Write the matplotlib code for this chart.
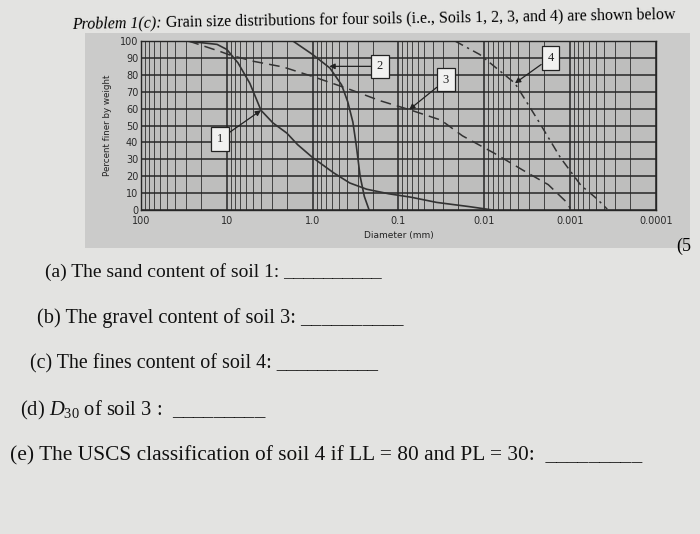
import matplotlib
matplotlib.use("Agg")
import matplotlib.pyplot as plt
from matplotlib.patches import Rectangle
from matplotlib.ticker import FixedLocator, NullFormatter
import numpy as np

# grain size curves (diameter mm, percent finer)
soil1_d = [30, 13, 10, 7.4, 5.4, 4.0, 2.9, 2.0, 1.5, 1.0, 0.57, 0.37, 0.235, 0.13, 0.072, 0.036, 0.015, 0.008]
soil1_p = [100, 98, 95, 87, 75, 59, 51.5, 45.5, 38.7, 31, 22, 16, 12.3, 9.6, 7.6, 4.5, 2, 0]

soil2_d = [1.7, 1.0, 0.63, 0.46, 0.39, 0.34, 0.31, 0.28, 0.25, 0.22]
soil2_p = [100, 92, 84, 74, 64, 52, 38, 20, 8, 0]

soil3_d = [28, 12.3, 9.2, 4.8, 2.2, 1.0, 0.4, 0.16, 0.075, 0.032, 0.018, 0.0076, 0.0034, 0.0018, 0.0011, 0.001]
soil3_p = [100, 94, 91.7, 87.9, 84.6, 79, 72, 64.5, 59.4, 53.2, 43.9, 33.5, 23, 15, 4.6, 1]

soil4_d = [0.022, 0.0113, 0.0044, 0.0023, 0.0013, 0.00075, 0.00049, 0.00037]
soil4_p = [100, 92, 75, 52, 31, 14.6, 6.7, 0.5]

x_ticks = [100, 10, 1, 0.1, 0.01, 0.001, 0.0001]
x_labels = ['100', '10', '1.0', '0.1', '0.01', '0.001', '0.0001']
y_ticks = list(range(0, 101, 10))

# label boxes: (text, box position, arrow tip)
labels = [
    ('1', (12, 42), (4.0, 59)),
    ('2', (0.165, 85), (0.64, 85)),
    ('3', (0.028, 77), (0.075, 59.4)),
    ('4', (0.0017, 90), (0.0044, 75)),
]

questions = [
    '(a) The sand content of soil 1: __________',
    '(b) The gravel content of soil 3: __________',
    '(c) The fines content of soil 4: __________',
    '(d) $D_{30}$ of soil 3 :  _________',
    '(e) The USCS classification of soil 4 if LL = 80 and PL = 30:  _________',
]
q_pos = [(45, 272), (37, 318), (30, 364), (20, 410), (10, 456)]
q_size = [14.0, 14.7, 14.4, 14.8, 15.4]

plt.rcParams['mathtext.fontset'] = 'custom'
plt.rcParams['mathtext.rm'] = 'Liberation Serif'
plt.rcParams['mathtext.it'] = 'Liberation Serif:italic'

W, H = 700, 534
fig = plt.figure(figsize=(7, 5.34), dpi=100, facecolor='#e3e3e1')

# gray printed panel behind the chart
fig.patches.append(Rectangle((85 / W, 1 - 248 / H), 605 / W, 215 / H,
                             transform=fig.transFigure, facecolor='#cbcbca',
                             edgecolor='none', zorder=-5))

ax = fig.add_axes([141 / W, 1 - 210 / H, 515 / W, 169 / H])
ax.set_zorder(2)
ax.set_facecolor('#bebebd')

ln = '#333333'
ax.semilogx(soil1_d, soil1_p, color=ln, lw=1.2, ls='-')
ax.semilogx(soil2_d, soil2_p, color=ln, lw=1.2, ls='-')
ax.semilogx(soil3_d, soil3_p, color=ln, lw=1.1, ls=(0, (7, 4)))
ax.semilogx(soil4_d, soil4_p, color=ln, lw=1.1, ls=(0, (6, 3, 1.5, 3)))

ax.set_xlim(100, 0.0001)
ax.set_ylim(0, 100)

ax.xaxis.set_major_locator(FixedLocator(x_ticks))
ax.set_xticklabels(x_labels)
minor = [m * 10.0 ** e for e in range(-4, 2) for m in range(2, 10)]
ax.xaxis.set_minor_locator(FixedLocator(minor))
ax.xaxis.set_minor_formatter(NullFormatter())
ax.set_yticks(y_ticks)

ax.grid(True, which='major', axis='both', color='#262626', lw=1.1)
ax.grid(True, which='minor', axis='x', color='#2e2e2e', lw=0.6)
ax.tick_params(which='both', length=0)
ax.tick_params(axis='x', pad=4, labelsize=7, colors='#2a2a2a')
ax.tick_params(axis='y', pad=2, labelsize=7, colors='#2a2a2a')
for s in ax.spines.values():
    s.set_color('#262626')
    s.set_linewidth(1.0)

ax.set_xlabel('Diameter (mm)', fontsize=6.5, color='#222222', labelpad=4)
ax.set_ylabel('Percent finer by weight', fontsize=6.3, color='#222222', labelpad=6)

for txt, box, tip in labels:
    ax.annotate(txt, xy=tip, xytext=box, ha='center', va='center',
                fontsize=9, family='Liberation Serif', color='#222222',
                bbox=dict(boxstyle='square,pad=0.45', fc='#f1f1f0', ec='#222222', lw=0.9),
                arrowprops=dict(arrowstyle='-|>', color='#222222', lw=0.9,
                                mutation_scale=8, shrinkA=0, shrinkB=0))

# text of the problem sheet, slightly rising to the right like the photo
rot = 0.9
t1 = fig.text(72 / W, 1 - 24 / H, 'Problem 1(c):', fontsize=11.5, family='Liberation Serif',
              style='italic', va='center', ha='left', rotation=rot, rotation_mode='anchor')
r = fig.canvas.get_renderer()
bb = t1.get_window_extent(r)
x2 = bb.x1 + 4
y2 = 24 - (x2 - 72) * np.tan(np.radians(rot))
fig.text(x2 / W, 1 - y2 / H,
         'Grain size distributions for four soils (i.e., Soils 1, 2, 3, and 4) are shown below',
         fontsize=11.5, family='Liberation Serif', va='center', ha='left',
         rotation=rot, rotation_mode='anchor')

fig.text(676 / W, 1 - 246 / H, '(5', fontsize=13, family='Liberation Serif',
         va='center', ha='left')

for q, (qx, qy), fs in zip(questions, q_pos, q_size):
    fig.text(qx / W, 1 - qy / H, q, fontsize=fs, family='Liberation Serif',
             va='center', ha='left', color='#111111')

fig.savefig('out.png', dpi=100, facecolor=fig.get_facecolor())
